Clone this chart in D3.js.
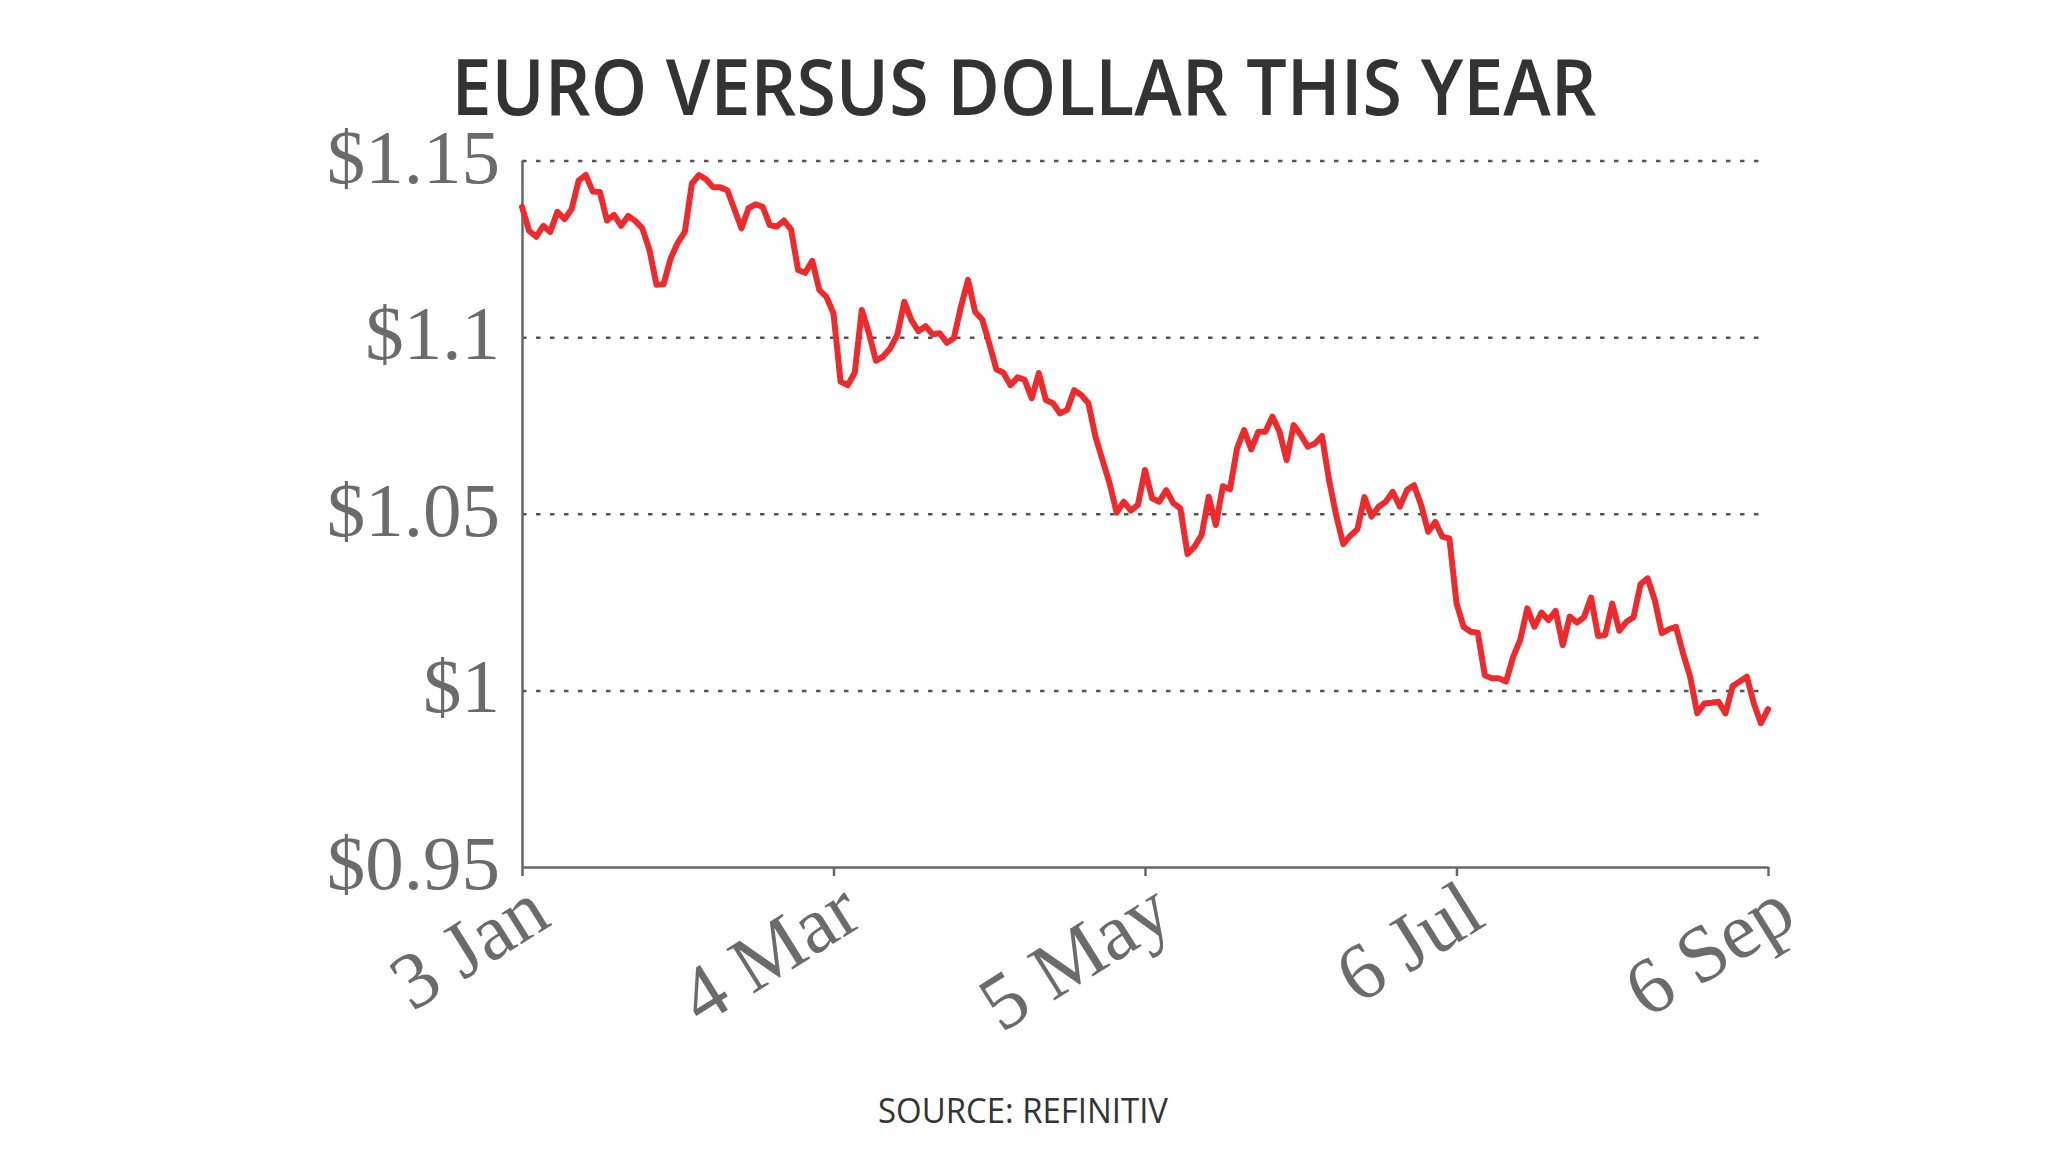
<!DOCTYPE html>
<html><head><meta charset="utf-8">
<script src="https://cdn.jsdelivr.net/npm/d3@7"></script>
<style>html,body{margin:0;padding:0;background:#fff}svg{display:block}</style>
</head><body>
<svg id="chart" width="2048" height="1152"></svg>
<script>
const titleText = "EURO VERSUS DOLLAR THIS YEAR";
const sourceText = "SOURCE: REFINITIV";
const xTickIndex = [0, 44, 88, 132, 176];
const xTickLabels = ["3 Jan", "4 Mar", "5 May", "6 Jul", "6 Sep"];
const yTickValues = [0.95, 1.0, 1.05, 1.1, 1.15];
const yTickLabels = ["$0.95", "$1", "$1.05", "$1.1", "$1.15"];
const eurusd = [
1.1369,1.1301,1.1284,1.1315,1.1298,1.1355,1.1334,1.1362,1.1443,1.1459,
1.1412,1.1411,1.1330,1.1346,1.1315,1.1343,1.1329,1.1308,1.1247,1.1148,
1.1150,1.1223,1.1267,1.1298,1.1435,1.1459,1.1447,1.1424,1.1424,1.1416,
1.1362,1.1308,1.1365,1.1376,1.1369,1.1317,1.1313,1.1330,1.1305,1.1190,
1.1182,1.1216,1.1133,1.1114,1.1067,1.0874,1.0864,1.0899,1.1077,1.1011,
1.0933,1.0945,1.0968,1.1006,1.1100,1.1048,1.1017,1.1031,1.1008,1.1011,
1.0984,1.0997,1.1086,1.1162,1.1072,1.1050,1.0982,1.0909,1.0899,1.0864,
1.0886,1.0879,1.0827,1.0898,1.0822,1.0813,1.0784,1.0794,1.0850,1.0836,
1.0813,1.0718,1.0652,1.0586,1.0503,1.0534,1.0509,1.0525,1.0624,1.0544,
1.0534,1.0567,1.0530,1.0515,1.0386,1.0407,1.0440,1.0548,1.0468,1.0578,
1.0569,1.0685,1.0737,1.0682,1.0732,1.0732,1.0775,1.0732,1.0652,1.0751,
1.0723,1.0690,1.0699,1.0720,1.0595,1.0496,1.0414,1.0438,1.0456,1.0547,
1.0492,1.0520,1.0534,1.0562,1.0520,1.0567,1.0581,1.0525,1.0449,1.0477,
1.0435,1.0430,1.0247,1.0180,1.0166,1.0163,1.0043,1.0034,1.0034,1.0025,
1.0095,1.0143,1.0232,1.0180,1.0220,1.0199,1.0225,1.0128,1.0209,1.0192,
1.0207,1.0263,1.0154,1.0157,1.0246,1.0169,1.0194,1.0207,1.0301,1.0317,
1.0256,1.0162,1.0173,1.0180,1.0105,1.0039,0.9935,0.9963,0.9965,0.9968,
0.9935,1.0012,1.0025,1.0039,0.9963,0.9907,0.9947
];

const svg = d3.select("#chart");
svg.append("rect").attr("width", 2048).attr("height", 1152).attr("fill", "#fff");

const plotLeft = 522, plotRight = 1768, plotTop = 160.5, plotBottom = 867;
const x = d3.scaleLinear().domain([0, eurusd.length - 1]).range([plotLeft, plotRight]);
const y = d3.scaleLinear().domain([0.95, 1.15]).range([plotBottom, plotTop]);

// title
svg.append("text")
  .attr("x", 1024).attr("y", 115)
  .attr("text-anchor", "middle")
  .attr("font-family", "'Open Sans', sans-serif")
  .attr("font-weight", 650)
  .attr("font-size", 78)
  .attr("textLength", 1145)
  .attr("lengthAdjust", "spacingAndGlyphs")
  .attr("fill", "#333")
  .text(titleText);

// gridlines
const grid = svg.append("g")
  .attr("transform", `translate(${plotLeft},0)`)
  .call(d3.axisLeft(y).tickValues(yTickValues.filter(v => v > 0.95)).tickSize(-(plotRight - plotLeft)).tickFormat(""));
grid.select(".domain").remove();
grid.selectAll(".tick line")
  .attr("stroke", "#555").attr("stroke-width", 2.5).attr("stroke-dasharray", "4.5,9.5");

// y axis labels + line
const yAxis = svg.append("g")
  .attr("transform", `translate(${plotLeft},0)`)
  .call(d3.axisLeft(y).tickValues(yTickValues).tickSize(0).tickSizeOuter(0).tickPadding(22)
    .tickFormat((d, i) => yTickLabels[i]));
yAxis.select(".domain").attr("stroke", "#666").attr("stroke-width", 2.5);
yAxis.selectAll(".tick text")
  .attr("font-family", "'Liberation Serif', 'Times New Roman', serif")
  .attr("font-size", 77).attr("fill", "#6b6b6b")
  .attr("dy", "0.28em");

// x axis
const xAxis = svg.append("g")
  .attr("transform", `translate(0,${plotBottom})`)
  .call(d3.axisBottom(x).tickValues(xTickIndex).tickSize(9).tickSizeOuter(0).tickPadding(0)
    .tickFormat((d, i) => xTickLabels[i]));
xAxis.select(".domain").attr("stroke", "#666").attr("stroke-width", 2.5);
xAxis.selectAll(".tick line").attr("stroke", "#666").attr("stroke-width", 2.5);
xAxis.selectAll(".tick text")
  .attr("font-family", "'Liberation Serif', 'Times New Roman', serif")
  .attr("font-size", 80).attr("fill", "#6b6b6b")
  .attr("text-anchor", "end")
  .attr("y", 0).attr("dy", 0)
  .attr("transform", "translate(31,57) rotate(-32)");

// line
svg.append("path")
  .datum(eurusd)
  .attr("fill", "none")
  .attr("stroke", "#ee2a2d")
  .attr("stroke-width", 6)
  .attr("stroke-linejoin", "round")
  .attr("stroke-linecap", "round")
  .attr("d", d3.line().x((d, i) => x(i)).y(d => y(d)));

// source
svg.append("text")
  .attr("x", 1023).attr("y", 1123)
  .attr("text-anchor", "middle")
  .attr("font-family", "'Open Sans', sans-serif")
  .attr("font-size", 35)
  .attr("textLength", 290)
  .attr("lengthAdjust", "spacingAndGlyphs")
  .attr("fill", "#333")
  .text(sourceText);
</script>
</body></html>
